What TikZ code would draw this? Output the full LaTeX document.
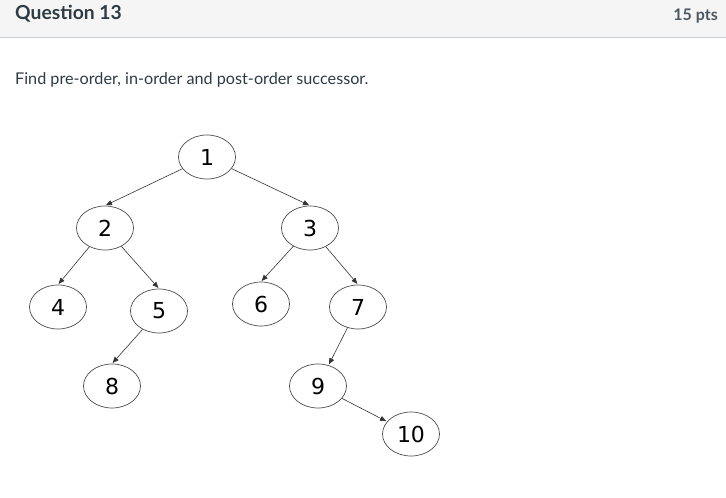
\documentclass[tikz,border=0pt]{standalone}
\usepackage{fontspec}
\setmainfont{Lato}
\newfontfamily\treefont{DejaVu Sans}
\usetikzlibrary{shapes.geometric,arrows.meta}
\definecolor{headbg}{HTML}{F5F5F5}
\definecolor{headrule}{HTML}{C7CDD1}
\definecolor{inktext}{HTML}{2D3B45}

\begin{document}
\begin{tikzpicture}[x=1pt,y=-1pt,
    vertex/.style={ellipse, draw=black!70, line width=0.7pt, minimum width=57pt,
      minimum height=44pt, inner sep=0pt, font=\treefont\fontsize{22}{22}\selectfont},
    edge/.style={draw=black!80, line width=0.6pt, -{Triangle[length=6pt,width=5pt]},
      shorten >=1pt}]
    \useasboundingbox (0,0) rectangle (726,498);

    % Question header
    \fill[headbg] (0,0) rectangle (726,37);
    \draw[headrule, line width=1pt] (0,37.5) -- (726,37.5);
    \node[anchor=base west, inner sep=0pt, text=inktext, font=\bfseries\fontsize{19.3}{19.3}\selectfont]
      (qtitle) at (15,19) {Question 13};
    \node[anchor=base east, inner sep=0pt, text=inktext!85, font=\bfseries\fontsize{16}{16}\selectfont]
      (qpts) at (718,20) {15 pts};

    % Question text
    \node[anchor=base west, inner sep=0pt, text=inktext, font=\fontsize{16.2}{16.2}\selectfont]
      (qtext) at (15,84) {Find pre-order, in-order and post-order successor.};

    % Tree nodes
    \node[vertex] (n1) at (207,157) {1};
    \node[vertex] (n2) at (105,228) {2};
    \node[vertex] (n3) at (310,228) {3};
    \node[vertex] (n4) at (58,307) {4};
    \node[vertex] (n5) at (159,311) {5};
    \node[vertex] (n6) at (261,304) {6};
    \node[vertex] (n7) at (358,307) {7};
    \node[vertex] (n8) at (112,386) {8};
    \node[vertex] (n9) at (318,386) {9};
    \node[vertex] (n10) at (411,434) {10};

    % Edges
    \draw[edge] (n1) -- (n2.north);
    \draw[edge] (n1) -- (n3.north);
    \draw[edge] (n2) -- (n4.north);
    \draw[edge] (n2) -- (n5.north);
    \draw[edge] (n3) -- (n6.north);
    \draw[edge] (n3) -- (n7.north);
    \draw[edge] (n5) -- (n8.north);
    \draw[edge] (n7) -- (n9);
    \draw[edge] (n9) -- (n10);
\end{tikzpicture}
\end{document}
